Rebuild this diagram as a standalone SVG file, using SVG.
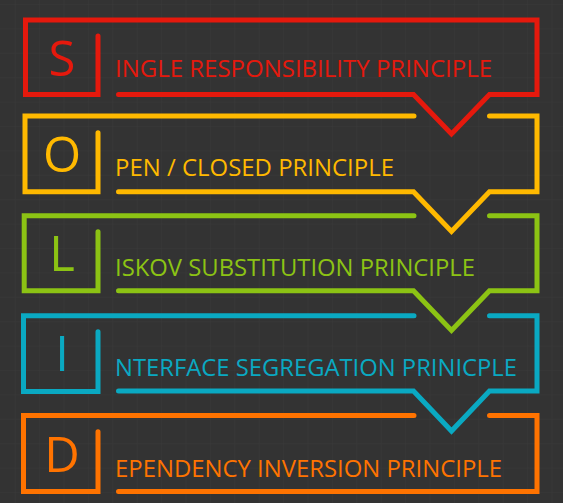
<svg xmlns="http://www.w3.org/2000/svg" width="563" height="503" viewBox="0 0 563 503">
<defs>
<pattern id="grid" x="14.7" y="4" width="24.4" height="24.4" patternUnits="userSpaceOnUse">
<path d="M0,0 V24.4 M0,0 H24.4" fill="none" stroke="#3a3a3a" stroke-width="1"/>
</pattern>
<style>
.box{fill:none;stroke-width:5;stroke-linecap:round;stroke-linejoin:miter}
.big{font-family:"Open Sans","Liberation Sans",sans-serif;font-size:49px;text-anchor:middle}
.lbl{font-family:"Open Sans","Liberation Sans",sans-serif;font-size:24px}
.red{stroke:#e5190d}.redt{fill:#e5190d}
.yel{stroke:#ffb900}.yelt{fill:#ffb900}
.grn{stroke:#8cc314}.grnt{fill:#8cc314}
.blu{stroke:#0aa9c2}.blut{fill:#0aa9c2}
.org{stroke:#ff7300}.orgt{fill:#ff7300}
</style>
</defs>
<rect width="563" height="503" fill="#333333"/>
<rect width="563" height="503" fill="url(#grid)"/>
<g id="connectors"></g>
<g id="node-s">
<path class="box red" d="M98,36 V94.5 H25.5 V20 H537 V94.5 H489.5 L451.5,134 L413.5,94.5 H118.5"/>
<text class="big redt" x="62" y="75.5">S</text>
<text class="lbl redt" x="115" y="77" textLength="377" lengthAdjust="spacingAndGlyphs">INGLE RESPONSIBILITY PRINCIPLE</text>
</g>
<g id="node-o">
<path class="box yel" d="M414,116 H25 V191.7 H98 V132.7"/>
<path class="box yel" d="M489.5,116 H537 V191.7 H489.5 L451.5,231.5 L413.5,191.7 H118.5"/>
<text class="big yelt" x="62" y="172">O</text>
<text class="lbl yelt" x="115" y="175.7" textLength="279" lengthAdjust="spacingAndGlyphs">PEN / CLOSED PRINCIPLE</text>
</g>
<g id="node-l">
<path class="box grn" d="M414,215.8 H24.2 V290.7 H98 V231.7"/>
<path class="box grn" d="M489.5,215.8 H537 V290.7 H489.5 L451.5,330.5 L413.5,290.7 H118.5"/>
<text class="big grnt" x="62" y="271.3">L</text>
<text class="lbl grnt" x="115" y="276" textLength="360" lengthAdjust="spacingAndGlyphs">ISKOV SUBSTITUTION PRINCIPLE</text>
</g>
<g id="node-i">
<path class="box blu" d="M414,315.8 H23.5 V391.5 H98 V331.7"/>
<path class="box blu" d="M489.5,315.8 H537 V391 H489.5 L451.5,431 L413.5,391 H118.5"/>
<text class="big blut" x="62" y="370.7">I</text>
<text class="lbl blut" x="115" y="375.7" textLength="402" lengthAdjust="spacingAndGlyphs">NTERFACE SEGREGATION PRINICPLE</text>
</g>
<g id="node-d">
<path class="box org" d="M414,415.5 H23.5 V491.5 H98 V431.7"/>
<path class="box org" d="M489.5,415.5 H537 V491.5 H118.5"/>
<text class="big orgt" x="62" y="471.7">D</text>
<text class="lbl orgt" x="115" y="476.7" textLength="387" lengthAdjust="spacingAndGlyphs">EPENDENCY INVERSION PRINCIPLE</text>
</g>
</svg>
